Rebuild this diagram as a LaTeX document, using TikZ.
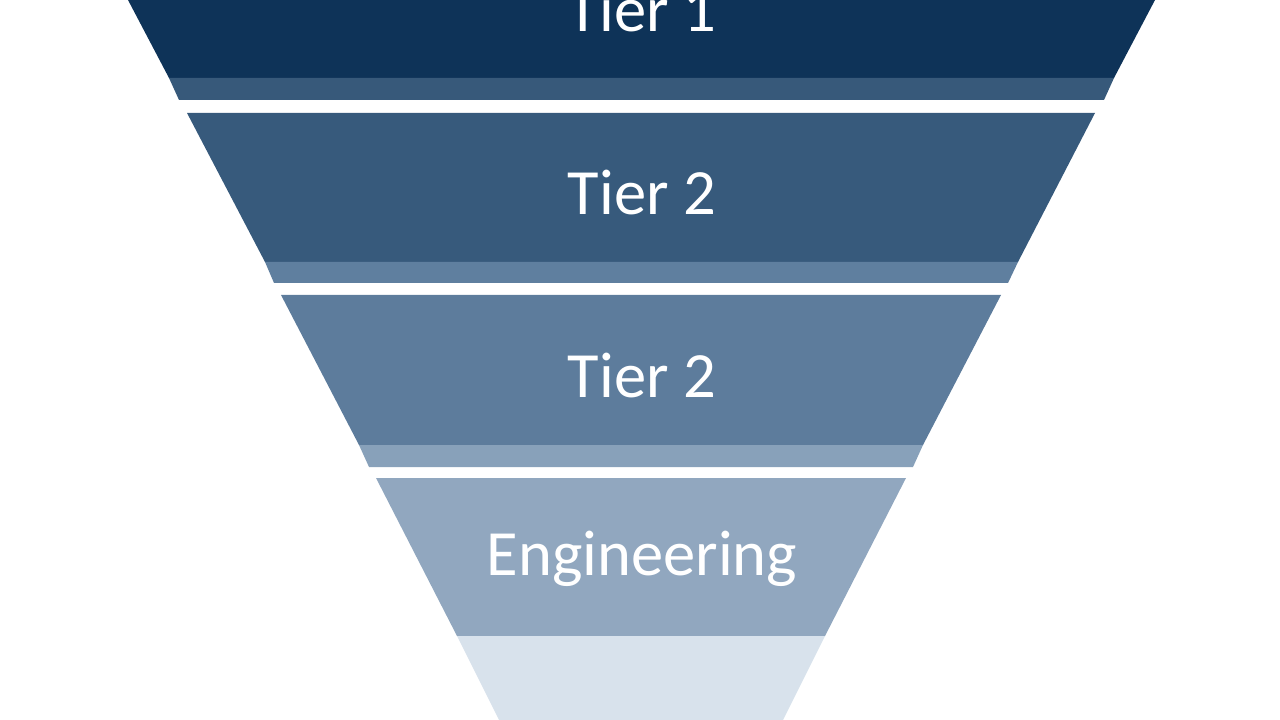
\documentclass[tikz,border=0pt]{standalone}
\usepackage{fontspec}
\setmainfont{Carlito}
\definecolor{tierone}{HTML}{0E3358}
\definecolor{tieronelip}{HTML}{37597A}
\definecolor{tiertwo}{HTML}{375A7C}
\definecolor{tiertwolip}{HTML}{5F7F9F}
\definecolor{tierthree}{HTML}{5D7C9C}
\definecolor{tierthreelip}{HTML}{88A1BA}
\definecolor{tierfour}{HTML}{91A7BF}
\definecolor{tierfive}{HTML}{D8E2EC}
\tikzset{
    tierlabel/.style={text=white, font=\fontsize{45.9}{50}\selectfont, anchor=base},
}
\begin{document}
\begin{tikzpicture}[x=0.025cm, y=-0.025cm]
    \useasboundingbox (0,0) rectangle (1280,720);
    \clip (0,0) rectangle (1280,720);

    % Tier 1
    \fill[tierone] (128,0) -- (1155,0) -- (1114,78) -- (169,78) -- cycle;
    \fill[tieronelip] (169,78) -- (1114,78) -- (1104,100) -- (179,100) -- cycle;

    % Tier 2
    \fill[tiertwo] (187,113) -- (1095,113) -- (1018,262) -- (265,262) -- cycle;
    \fill[tiertwolip] (265,262) -- (1018,262) -- (1008,283) -- (274,283) -- cycle;

    % Tier 2 (lower)
    \fill[tierthree] (281,295) -- (1001,295) -- (923,445) -- (359,445) -- cycle;
    \fill[tierthreelip] (359,445) -- (923,445) -- (913,467) -- (369,467) -- cycle;

    % Engineering
    \fill[tierfour] (376,478) -- (906,478) -- (825,636) -- (457,636) -- cycle;

    % lightest band, runs off the bottom
    \fill[tierfive] (457,636) -- (825,636) -- (783,720) -- (499,720) -- cycle;

    % labels
    \node[tierlabel] (tieronelabel) at (642,32) {Tier 1};
    \node[tierlabel] (tiertwolabel) at (642,215) {Tier 2};
    \node[tierlabel] (tierthreelabel) at (642,398) {Tier 2};
    \node[tierlabel] (engineeringlabel) at (642,575) {Engineering};
\end{tikzpicture}
\end{document}
